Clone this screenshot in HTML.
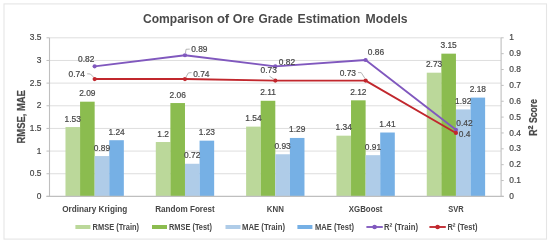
<!DOCTYPE html>
<html lang="en"><head><meta charset="utf-8"><title>Comparison of Ore Grade Estimation Models</title>
<style>
html,body{margin:0;padding:0;background:#fff;}
body{width:550px;height:243px;overflow:hidden;}
svg{display:block;}
</style></head><body>
<svg width="550" height="243" viewBox="0 0 550 243">
<rect x="0" y="0" width="550" height="243" fill="#fff"/>
<rect x="4" y="3.9" width="542.5" height="235.2" fill="#fff" stroke="#e5e5e5" stroke-width="1.1"/>
<line x1="49.50" y1="173.74" x2="501.10" y2="173.74" stroke="#dedede" stroke-width="1"/>
<line x1="49.50" y1="151.09" x2="501.10" y2="151.09" stroke="#dedede" stroke-width="1"/>
<line x1="49.50" y1="128.43" x2="501.10" y2="128.43" stroke="#dedede" stroke-width="1"/>
<line x1="49.50" y1="105.77" x2="501.10" y2="105.77" stroke="#dedede" stroke-width="1"/>
<line x1="49.50" y1="83.11" x2="501.10" y2="83.11" stroke="#dedede" stroke-width="1"/>
<line x1="49.50" y1="60.46" x2="501.10" y2="60.46" stroke="#dedede" stroke-width="1"/>
<line x1="49.50" y1="37.80" x2="501.10" y2="37.80" stroke="#dedede" stroke-width="1"/>
<rect x="65.48" y="127.07" width="14.59" height="69.33" fill="#bbd89a"/>
<rect x="80.07" y="101.69" width="14.59" height="94.71" fill="#8bbc4f"/>
<rect x="94.66" y="156.07" width="14.59" height="40.33" fill="#afcce8"/>
<rect x="109.25" y="140.21" width="14.59" height="56.19" fill="#76b0e5"/>
<rect x="155.80" y="142.02" width="14.59" height="54.38" fill="#bbd89a"/>
<rect x="170.39" y="103.05" width="14.59" height="93.35" fill="#8bbc4f"/>
<rect x="184.98" y="163.77" width="14.59" height="32.63" fill="#afcce8"/>
<rect x="199.57" y="140.66" width="14.59" height="55.74" fill="#76b0e5"/>
<rect x="246.12" y="126.62" width="14.59" height="69.78" fill="#bbd89a"/>
<rect x="260.71" y="100.79" width="14.59" height="95.61" fill="#8bbc4f"/>
<rect x="275.30" y="154.26" width="14.59" height="42.14" fill="#afcce8"/>
<rect x="289.89" y="137.94" width="14.59" height="58.46" fill="#76b0e5"/>
<rect x="336.44" y="135.68" width="14.59" height="60.72" fill="#bbd89a"/>
<rect x="351.03" y="100.33" width="14.59" height="96.07" fill="#8bbc4f"/>
<rect x="365.62" y="155.16" width="14.59" height="41.24" fill="#afcce8"/>
<rect x="380.21" y="132.51" width="14.59" height="63.89" fill="#76b0e5"/>
<rect x="426.76" y="72.69" width="14.59" height="123.71" fill="#bbd89a"/>
<rect x="441.35" y="53.66" width="14.59" height="142.74" fill="#8bbc4f"/>
<rect x="455.94" y="109.40" width="14.59" height="87.00" fill="#afcce8"/>
<rect x="470.53" y="97.61" width="14.59" height="98.79" fill="#76b0e5"/>
<line x1="46.50" y1="196.40" x2="503.70" y2="196.40" stroke="#bfbfbf" stroke-width="1.1"/>
<line x1="49.50" y1="37.80" x2="49.50" y2="196.40" stroke="#bfbfbf" stroke-width="1.1"/>
<line x1="501.10" y1="37.80" x2="501.10" y2="196.40" stroke="#bfbfbf" stroke-width="1.1"/>
<line x1="46.50" y1="196.40" x2="49.50" y2="196.40" stroke="#bfbfbf" stroke-width="1"/>
<line x1="46.50" y1="173.74" x2="49.50" y2="173.74" stroke="#bfbfbf" stroke-width="1"/>
<line x1="46.50" y1="151.09" x2="49.50" y2="151.09" stroke="#bfbfbf" stroke-width="1"/>
<line x1="46.50" y1="128.43" x2="49.50" y2="128.43" stroke="#bfbfbf" stroke-width="1"/>
<line x1="46.50" y1="105.77" x2="49.50" y2="105.77" stroke="#bfbfbf" stroke-width="1"/>
<line x1="46.50" y1="83.11" x2="49.50" y2="83.11" stroke="#bfbfbf" stroke-width="1"/>
<line x1="46.50" y1="60.46" x2="49.50" y2="60.46" stroke="#bfbfbf" stroke-width="1"/>
<line x1="46.50" y1="37.80" x2="49.50" y2="37.80" stroke="#bfbfbf" stroke-width="1"/>
<line x1="501.10" y1="196.40" x2="503.70" y2="196.40" stroke="#bfbfbf" stroke-width="1"/>
<line x1="501.10" y1="180.54" x2="503.70" y2="180.54" stroke="#bfbfbf" stroke-width="1"/>
<line x1="501.10" y1="164.68" x2="503.70" y2="164.68" stroke="#bfbfbf" stroke-width="1"/>
<line x1="501.10" y1="148.82" x2="503.70" y2="148.82" stroke="#bfbfbf" stroke-width="1"/>
<line x1="501.10" y1="132.96" x2="503.70" y2="132.96" stroke="#bfbfbf" stroke-width="1"/>
<line x1="501.10" y1="117.10" x2="503.70" y2="117.10" stroke="#bfbfbf" stroke-width="1"/>
<line x1="501.10" y1="101.24" x2="503.70" y2="101.24" stroke="#bfbfbf" stroke-width="1"/>
<line x1="501.10" y1="85.38" x2="503.70" y2="85.38" stroke="#bfbfbf" stroke-width="1"/>
<line x1="501.10" y1="69.52" x2="503.70" y2="69.52" stroke="#bfbfbf" stroke-width="1"/>
<line x1="501.10" y1="53.66" x2="503.70" y2="53.66" stroke="#bfbfbf" stroke-width="1"/>
<line x1="501.10" y1="37.80" x2="503.70" y2="37.80" stroke="#bfbfbf" stroke-width="1"/>
<polyline fill="none" stroke="#8058be" stroke-width="1.85" stroke-linejoin="round" stroke-linecap="round" points="94.66,66.35 184.98,55.25 275.30,66.35 365.62,60.00 455.94,129.79"/>
<circle cx="94.66" cy="66.35" r="2.1" fill="#8058be"/>
<circle cx="184.98" cy="55.25" r="2.1" fill="#8058be"/>
<circle cx="275.30" cy="66.35" r="2.1" fill="#8058be"/>
<circle cx="365.62" cy="60.00" r="2.1" fill="#8058be"/>
<circle cx="455.94" cy="129.79" r="2.1" fill="#8058be"/>
<polyline fill="none" stroke="#c1272d" stroke-width="1.85" stroke-linejoin="round" stroke-linecap="round" points="94.66,79.04 184.98,79.04 275.30,80.62 365.62,80.62 455.94,132.96"/>
<circle cx="94.66" cy="79.04" r="2.1" fill="#c1272d"/>
<circle cx="184.98" cy="79.04" r="2.1" fill="#c1272d"/>
<circle cx="275.30" cy="80.62" r="2.1" fill="#c1272d"/>
<circle cx="365.62" cy="80.62" r="2.1" fill="#c1272d"/>
<circle cx="455.94" cy="132.96" r="2.1" fill="#c1272d"/>
<polyline fill="none" stroke="#adadad" stroke-width="0.9" stroke-linejoin="round" points="87.2,73.8 90.4,74.0 93.4,77.0"/>
<polyline fill="none" stroke="#adadad" stroke-width="0.9" stroke-linejoin="round" points="185.5,53.0 186.0,49.3 189.8,49.1"/>
<polyline fill="none" stroke="#adadad" stroke-width="0.9" stroke-linejoin="round" points="185.8,77.3 188.4,72.9 191.6,72.6"/>
<polyline fill="none" stroke="#adadad" stroke-width="0.9" stroke-linejoin="round" points="269.5,76.2 274.0,79.3"/>
<polyline fill="none" stroke="#adadad" stroke-width="0.9" stroke-linejoin="round" points="358.0,72.6 361.2,72.6 365.0,78.5"/>
<g font-family="'Liberation Sans', Arial, sans-serif" fill="#474747">
<text y="23.1" font-size="13.3" font-weight="bold" fill="#4a4a4a"><tspan x="143.0" textLength="70.3" lengthAdjust="spacingAndGlyphs">Comparison</tspan> <tspan x="216.9" textLength="12.3" lengthAdjust="spacingAndGlyphs">of</tspan> <tspan x="232.7" textLength="21.5" lengthAdjust="spacingAndGlyphs">Ore</tspan> <tspan x="258.5" textLength="34.3" lengthAdjust="spacingAndGlyphs">Grade</tspan> <tspan x="297.6" textLength="62.6" lengthAdjust="spacingAndGlyphs">Estimation</tspan> <tspan x="365.6" textLength="42.0" lengthAdjust="spacingAndGlyphs">Models</tspan></text>
<g font-size="8.4" stroke="#474747" stroke-width="0.2" text-anchor="middle">
<text x="72.77" y="121.57">1.53</text>
<text x="87.36" y="96.19">2.09</text>
<text x="101.96" y="150.57">0.89</text>
<text x="116.55" y="134.71">1.24</text>
<text x="163.09" y="136.52">1.2</text>
<text x="177.68" y="97.55">2.06</text>
<text x="192.28" y="158.27">0.72</text>
<text x="206.87" y="135.16">1.23</text>
<text x="253.41" y="121.12">1.54</text>
<text x="268.00" y="95.29">2.11</text>
<text x="282.60" y="148.76">0.93</text>
<text x="297.19" y="132.44">1.29</text>
<text x="343.73" y="130.18">1.34</text>
<text x="358.32" y="94.83">2.12</text>
<text x="372.92" y="149.66">0.91</text>
<text x="387.51" y="127.01">1.41</text>
<text x="434.05" y="67.19">2.73</text>
<text x="448.64" y="48.16">3.15</text>
<text x="463.24" y="103.90">1.92</text>
<text x="477.83" y="92.11">2.18</text>
</g>
<g font-size="8.4" stroke="#474747" stroke-width="0.2" text-anchor="middle">
<text x="86.2" y="61.5">0.82</text>
<text x="76.7" y="77.3">0.74</text>
<text x="199.3" y="51.8">0.89</text>
<text x="201.3" y="76.7">0.74</text>
<text x="287.0" y="64.8">0.82</text>
<text x="268.7" y="72.5">0.73</text>
<text x="376.0" y="55.0">0.86</text>
<text x="347.8" y="75.5">0.73</text>
<text x="464.5" y="125.8">0.42</text>
<text x="464.7" y="137.0">0.4</text>
</g>
<g font-size="8.4" stroke="#474747" stroke-width="0.2" text-anchor="end">
<text x="41.4" y="199.05">0</text>
<text x="41.4" y="176.39">0.5</text>
<text x="41.4" y="153.74">1</text>
<text x="41.4" y="131.08">1.5</text>
<text x="41.4" y="108.42">2</text>
<text x="41.4" y="85.76">2.5</text>
<text x="41.4" y="63.11">3</text>
<text x="41.4" y="40.45">3.5</text>
</g>
<g font-size="8.4" stroke="#474747" stroke-width="0.2">
<text x="509.3" y="199.00">0</text>
<text x="509.3" y="183.14">0.1</text>
<text x="509.3" y="167.28">0.2</text>
<text x="509.3" y="151.42">0.3</text>
<text x="509.3" y="135.56">0.4</text>
<text x="509.3" y="119.70">0.5</text>
<text x="509.3" y="103.84">0.6</text>
<text x="509.3" y="87.98">0.7</text>
<text x="509.3" y="72.12">0.8</text>
<text x="509.3" y="56.26">0.9</text>
<text x="509.3" y="40.40">1</text>
</g>
<g font-size="8.8" font-weight="bold" text-anchor="middle">
<text x="94.66" y="212" textLength="65.0" lengthAdjust="spacingAndGlyphs">Ordinary Kriging</text>
<text x="184.98" y="212" textLength="59.6" lengthAdjust="spacingAndGlyphs">Random Forest</text>
<text x="275.30" y="212" textLength="17.0" lengthAdjust="spacingAndGlyphs">KNN</text>
<text x="365.62" y="212" textLength="33.6" lengthAdjust="spacingAndGlyphs">XGBoost</text>
<text x="455.94" y="212" textLength="15.4" lengthAdjust="spacingAndGlyphs">SVR</text>
</g>
<text transform="translate(24.9,143.5) rotate(-90)" font-size="10" font-weight="bold" stroke="#474747" stroke-width="0.2" textLength="53.3" lengthAdjust="spacingAndGlyphs">RMSE, MAE</text>
<text transform="translate(536.6,135.8) rotate(-90)" font-size="10.2" font-weight="bold" stroke="#474747" stroke-width="0.2" textLength="36.9" lengthAdjust="spacingAndGlyphs">R<tspan font-size="14.3" dy="1.6">²</tspan><tspan dy="-1.6"> Score</tspan></text>
<g font-size="8.8" font-weight="bold">
<rect x="75.4" y="225" width="15" height="4" fill="#bbd89a"/>
<text x="92.6" y="230" textLength="46.4" lengthAdjust="spacingAndGlyphs">RMSE (Train)</text>
<rect x="152.0" y="225" width="15" height="4" fill="#8bbc4f"/>
<text x="169.0" y="230" textLength="43.0" lengthAdjust="spacingAndGlyphs">RMSE (Test)</text>
<rect x="225.5" y="225" width="15" height="4" fill="#afcce8"/>
<text x="242.0" y="230" textLength="43.0" lengthAdjust="spacingAndGlyphs">MAE (Train)</text>
<rect x="297.4" y="225" width="15" height="4" fill="#76b0e5"/>
<text x="315.0" y="230" textLength="39.0" lengthAdjust="spacingAndGlyphs">MAE (Test)</text>
<line x1="366.4" y1="227" x2="382.8" y2="227" stroke="#8058be" stroke-width="1.85"/>
<circle cx="374.6" cy="227" r="2.3" fill="#8058be"/>
<text x="384.0" y="230" textLength="34.0" lengthAdjust="spacingAndGlyphs">R<tspan font-size="9.7" dy="0.3">²</tspan><tspan dy="-0.3"> (Train)</tspan></text>
<line x1="429.4" y1="227" x2="445.8" y2="227" stroke="#c1272d" stroke-width="1.85"/>
<circle cx="437.6" cy="227" r="2.3" fill="#c1272d"/>
<text x="447.4" y="230" textLength="30.0" lengthAdjust="spacingAndGlyphs">R<tspan font-size="9.7" dy="0.3">²</tspan><tspan dy="-0.3"> (Test)</tspan></text>
</g>
</g>
</svg>
</body></html>
